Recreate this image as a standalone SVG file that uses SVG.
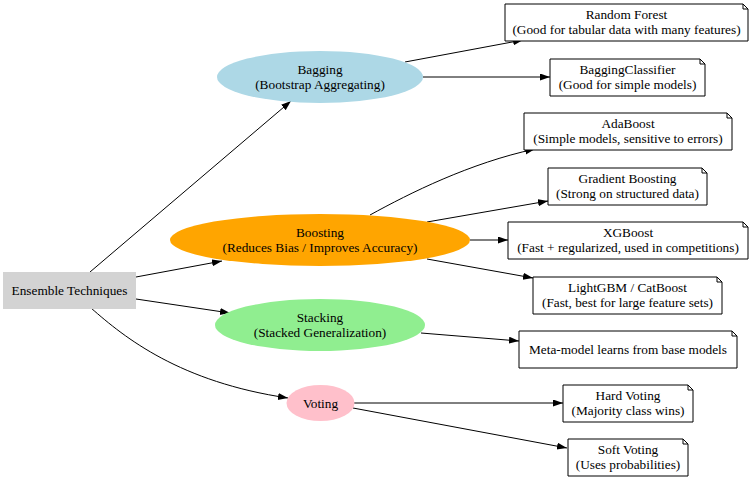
<svg xmlns="http://www.w3.org/2000/svg" width="754" height="480" viewBox="0 0 754 480">
<defs>
<marker id="arr" markerUnits="userSpaceOnUse" markerWidth="11" markerHeight="8" refX="10" refY="3.5" orient="auto">
<path d="M0,0 L10,3.5 L0,7 Z" fill="#000"/>
</marker>
<style>
text{font-family:"Liberation Serif","Times New Roman",serif;font-size:13.3px;text-anchor:middle;fill:#000}
.note{fill:#fff;stroke:#000;stroke-width:1}
.fold{fill:none;stroke:#000;stroke-width:1}
.edge{fill:none;stroke:#000;stroke-width:1;marker-end:url(#arr)}
</style>
</defs>
<rect width="754" height="480" fill="#fff"/>
<g id="edges">
<path class="edge" d="M90,272 L291,101"/>
<path class="edge" d="M136,277 L222,261"/>
<path class="edge" d="M136,299 L230,313"/>
<path class="edge" d="M91,308 C125,338 180,382 288,398"/>
<path class="edge" d="M405,62 L523,40"/>
<path class="edge" d="M423,77 L550,77"/>
<path class="edge" d="M370,215 C410,193 470,163 535,149"/>
<path class="edge" d="M427,222 L548,201"/>
<path class="edge" d="M470,240 L508,240"/>
<path class="edge" d="M427,259 L533,278"/>
<path class="edge" d="M421,333 L519,341"/>
<path class="edge" d="M354,403 L563,403"/>
<path class="edge" d="M353,408 L567,448"/>
</g>
<g id="ensemble">
<rect x="3" y="272" width="133" height="37" fill="#d3d3d3"/>
<text x="69.5" y="294.5">Ensemble Techniques</text>
</g>
<g id="bagging">
<ellipse cx="320" cy="77" rx="103" ry="26" fill="#add8e6"/>
<text x="320" y="73.5">Bagging</text>
<text x="320" y="88.5">(Bootstrap Aggregating)</text>
</g>
<g id="boosting">
<ellipse cx="320" cy="240" rx="150" ry="26" fill="#ffa500"/>
<text x="320" y="236.5">Boosting</text>
<text x="320" y="251.5">(Reduces Bias / Improves Accuracy)</text>
</g>
<g id="stacking">
<ellipse cx="320" cy="325" rx="105" ry="26" fill="#90ee90"/>
<text x="320" y="321.5">Stacking</text>
<text x="320" y="336.5">(Stacked Generalization)</text>
</g>
<g id="voting">
<ellipse cx="320.5" cy="403" rx="34" ry="18" fill="#ffc0cb"/>
<text x="320.5" y="407.5">Voting</text>
</g>
<g id="random_forest">
<path class="note" d="M505,4 H743 L748,9 V41 H505 Z"/>
<path class="fold" d="M743,4 V9 H748"/>
<text x="626.5" y="19">Random Forest</text>
<text x="626.5" y="34">(Good for tabular data with many features)</text>
</g>
<g id="bagging_classifier">
<path class="note" d="M550,59 H700 L705,64 V96 H550 Z"/>
<path class="fold" d="M700,59 V64 H705"/>
<text x="627.5" y="74">BaggingClassifier</text>
<text x="627.5" y="89">(Good for simple models)</text>
</g>
<g id="adaboost">
<path class="note" d="M524,113 H727 L732,118 V150 H524 Z"/>
<path class="fold" d="M727,113 V118 H732"/>
<text x="628" y="128">AdaBoost</text>
<text x="628" y="143">(Simple models, sensitive to errors)</text>
</g>
<g id="gradient_boosting">
<path class="note" d="M548,168 H702 L707,173 V205 H548 Z"/>
<path class="fold" d="M702,168 V173 H707"/>
<text x="627.5" y="183">Gradient Boosting</text>
<text x="627.5" y="198">(Strong on structured data)</text>
</g>
<g id="xgboost">
<path class="note" d="M508,222 H743 L748,227 V259 H508 Z"/>
<path class="fold" d="M743,222 V227 H748"/>
<text x="628" y="237">XGBoost</text>
<text x="628" y="252">(Fast + regularized, used in competitions)</text>
</g>
<g id="lightgbm">
<path class="note" d="M533,277 H717 L722,282 V314 H533 Z"/>
<path class="fold" d="M717,277 V282 H722"/>
<text x="627.5" y="292">LightGBM / CatBoost</text>
<text x="627.5" y="307">(Fast, best for large feature sets)</text>
</g>
<g id="meta_model">
<path class="note" d="M519,331 H732 L737,336 V368 H519 Z"/>
<path class="fold" d="M732,331 V336 H737"/>
<text x="628" y="354">Meta-model learns from base models</text>
</g>
<g id="hard_voting">
<path class="note" d="M563,385 H688 L693,390 V422 H563 Z"/>
<path class="fold" d="M688,385 V390 H693"/>
<text x="628" y="400">Hard Voting</text>
<text x="628" y="415">(Majority class wins)</text>
</g>
<g id="soft_voting">
<path class="note" d="M568,439 H683 L688,444 V476 H568 Z"/>
<path class="fold" d="M683,439 V444 H688"/>
<text x="628" y="454">Soft Voting</text>
<text x="628" y="469">(Uses probabilities)</text>
</g>
</svg>
